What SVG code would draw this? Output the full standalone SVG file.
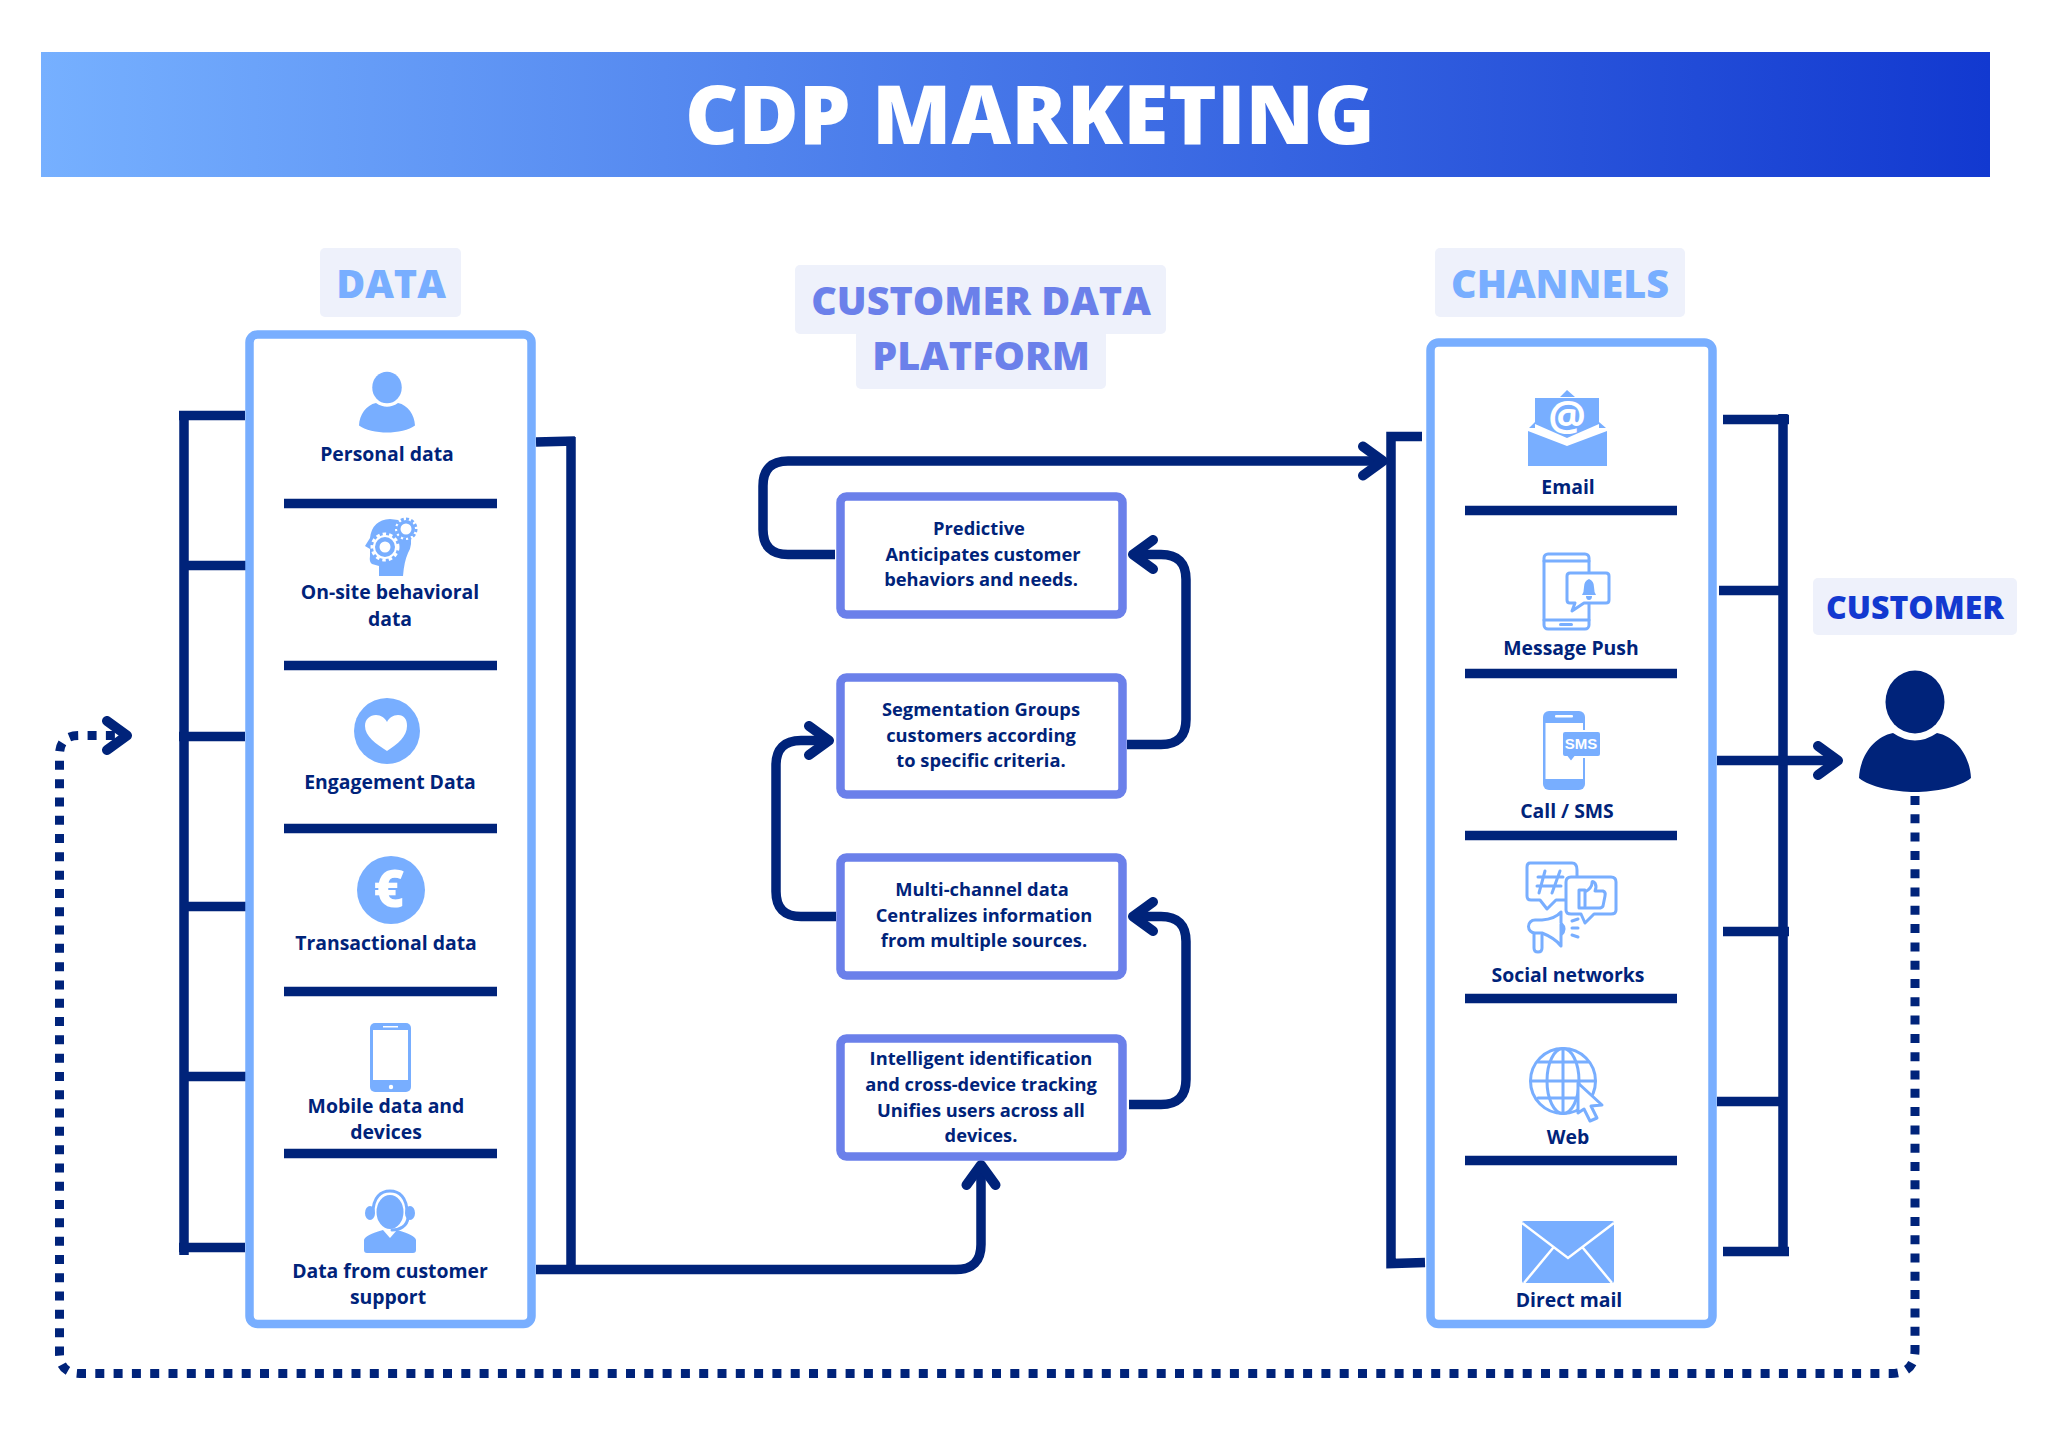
<svg xmlns="http://www.w3.org/2000/svg" width="2048" height="1448" viewBox="0 0 2048 1448">
<style>
text{font-family:"Open Sans","Noto Sans","Liberation Sans",sans-serif;font-weight:700;text-anchor:middle}
.t{font-size:19.4px;fill:#00237a}
.c{font-size:18.3px;fill:#00237a}
.h{font-size:39.5px;font-weight:800}
.lab{fill:#eef1fb}
.col{fill:#fff;stroke:#78aeff;stroke-width:8.5}
.box{fill:#fff;stroke:#6b80ea;stroke-width:8.5}
.sep{fill:none;stroke:#00237a;stroke-width:9.5}
.ln{fill:none;stroke:#00237a;stroke-width:9.5}
.ar{fill:none;stroke:#00237a;stroke-width:9.5;marker-end:url(#arrow)}
.dot{fill:none;stroke:#00237a;stroke-width:9;stroke-dasharray:9 9.3;marker-end:url(#arrow)}
.ic{fill:#78aeff}
.ol{fill:#fff;stroke:#78aeff;stroke-width:3;stroke-linejoin:round;stroke-linecap:round}
.nf{fill:none;stroke:#78aeff;stroke-width:3;stroke-linecap:round;stroke-linejoin:round}
.wl{fill:none;stroke:#fff;stroke-width:2.5}
</style>
<defs>
<linearGradient id="g" x1="0" x2="1" y1="0" y2="0"><stop offset="0" stop-color="#76b0ff"/><stop offset="1" stop-color="#1239d0"/></linearGradient>
<marker id="arrow" markerUnits="userSpaceOnUse" viewBox="-30 -20 40 40" refX="0" refY="0" markerWidth="40" markerHeight="40" orient="auto"><path d="M-20,-14.5 L0,0 L-20,14.5" fill="none" stroke="#00237a" stroke-width="10" stroke-linecap="round" stroke-linejoin="round"/></marker>
<path id="person" d="M-22,31 Q0,46 22,31 C42,35 55,55 56,76 C45,85 20,90 0,90 C-20,90 -45,85 -56,76 C-55,55 -42,35 -22,31Z"/>
</defs>
<rect width="2048" height="1448" fill="#fff"/>
<g id="title"><rect x="41" y="52" width="1949" height="125" fill="url(#g)"/><text x="1030" y="143.500" font-size="82.200" style="fill:#fff;font-weight:800">CDP MARKETING</text></g>
<g id="label-data"><rect class="lab" x="320" y="248" width="141" height="69" rx="5"/><text class="h" x="391" y="298" style="fill:#78aeff">DATA</text></g>
<g id="label-cdp"><rect class="lab" x="795" y="265" width="371" height="69" rx="5"/><rect class="lab" x="856" y="330" width="250" height="59" rx="5"/><text class="h" x="981" y="315" style="fill:#6b80ea">CUSTOMER DATA</text><text class="h" x="981" y="370" style="fill:#6b80ea">PLATFORM</text></g>
<g id="label-channels"><rect class="lab" x="1435" y="248" width="250" height="69" rx="5"/><text class="h" x="1560" y="298" style="fill:#78aeff">CHANNELS</text></g>
<g id="label-customer"><rect class="lab" x="1813" y="578" width="204" height="57" rx="5"/><text x="1915" y="619" font-size="32" style="fill:#1239d0;font-weight:800">CUSTOMER</text></g>

<g id="connectors">
<path class="ln" d="M184,411V1255M179,415.500H245M184,565.500H250M179,736.500H245M184,906.500H250M184,1076.500H248M179,1247.500H245"/>
<path class="ln" d="M536,442L575,441M571,437V1274"/>
<path class="ar" d="M536,1269.500H956Q981,1269.500 981,1244.500V1165"/>
<path class="ar" d="M835,554.500H788Q763,554.500 763,529.500V486Q763,461 788,461H1383"/>
<path class="ar" d="M1127,744.500H1161Q1186,744.500 1186,719.500V579.500Q1186,554.500 1161,554.500H1133"/>
<path class="ar" d="M836,916.500H801Q776,916.500 776,891.500V765.500Q776,740.500 801,740.500H829"/>
<path class="ar" d="M1129,1104.500H1161Q1186,1104.500 1186,1079.500V941.500Q1186,916.500 1161,916.500H1133"/>
<path class="ln" d="M1422,436.500L1391,436.500V1263.500L1425,1262.500"/>
<path class="ln" d="M1783,414V1256M1723,419.500H1789M1719,590.500H1783M1723,931.500H1789M1717,1101.500H1783M1723,1251.500H1789"/>
<path class="ar" d="M1717,760.500H1838"/>
<path class="dot" d="M1915,796V1350Q1915,1373.500 1891,1373.500H80Q59.500,1373.500 59.500,1353V755Q59.500,735.500 79,735.500H127"/>
</g>

<g id="col-data"><rect class="col" x="249.5" y="334.5" width="282" height="989.500" rx="8"/>
<path class="sep" d="M284,503.500H497M284,665.500H497M284,828.500H497M284,991.500H497M284,1153.500H497"/></g>
<g id="col-channels"><rect class="col" x="1430.5" y="342.5" width="282" height="981.500" rx="8"/>
<path class="sep" d="M1465,510.500H1677M1465,673.500H1677M1465,835.500H1677M1465,998.500H1677M1465,1160.500H1677"/></g>

<g id="personal-data"><g class="ic" transform="translate(387,387.500) scale(.5)"><ellipse rx="29.5" ry="31.5"/><use href="#person"/></g><text class="t" x="387" y="461">Personal data</text></g>
<g id="onsite-data"><path class="ic" d="M379,576V566L372,564Q369,562 370,556V549L365,546L370,538Q372,520 390,519L398,520L410,533Q413,545 408,553Q404,562 403,576Z"/>
<circle class="ic" cx="385" cy="547" r="11" stroke="#fff" stroke-width="2"/><circle cx="385" cy="547" r="13" fill="none" stroke="#fff" stroke-width="3" stroke-dasharray="3.5 3"/><circle cx="385" cy="547" r="5.5" fill="#fff"/>
<circle cx="406" cy="529" r="11" fill="#fff"/><circle class="ic" cx="406" cy="529" r="9"/><circle cx="406" cy="529" r="10" fill="none" stroke="#78aeff" stroke-width="3" stroke-dasharray="3 2.2"/><circle cx="406" cy="529" r="5.5" fill="#fff"/>
<text class="t" x="390" y="599">On-site behavioral</text><text class="t" x="390" y="626">data</text></g>
<g id="engagement-data"><circle class="ic" cx="387" cy="731" r="33"/><path fill="#fff" d="M387,751C376,744 365,736 365,726C365,719 370,715 376,715C381,715 385,718 387,722C389,718 393,715 398,715C404,715 407,719 407,726C407,736 398,744 387,751Z"/><text class="t" x="390" y="789">Engagement Data</text></g>
<g id="transactional-data"><circle class="ic" cx="391" cy="890" r="34"/><text x="389" y="907" font-size="52" style="fill:#fff;font-weight:800">€</text><text class="t" x="386" y="950">Transactional data</text></g>
<g id="mobile-data"><rect class="ic" x="370" y="1023" width="41" height="69" rx="5"/><rect x="373" y="1030" width="35" height="50" fill="#fff"/><rect x="383" y="1026" width="15" height="1.5" fill="#fff"/><circle cx="391" cy="1087" r="2.2" fill="#fff"/><text class="t" x="386" y="1113">Mobile data and</text><text class="t" x="386" y="1139">devices</text></g>
<g id="support-data"><ellipse class="ic" cx="390" cy="1212" rx="13.5" ry="17"/><path class="nf" d="M373,1213C373,1197 381,1191 390,1191C399,1191 407,1197 407,1213M408,1218C407,1226 400,1230 392,1230"/><ellipse class="ic" cx="370" cy="1213" rx="5" ry="7"/><ellipse class="ic" cx="410" cy="1213" rx="5" ry="7"/><path class="ic" d="M364,1240Q365,1235 383,1230L390,1238L397,1230Q415,1235 416,1240V1250Q416,1253 413,1253H367Q364,1253 364,1250Z"/><text class="t" x="390" y="1278">Data from customer</text><text class="t" x="388" y="1304">support</text></g>

<g id="email"><path class="ic" d="M1560,397L1567,390L1575,397ZM1529,428L1535,422V428ZM1606,428L1599,422V428Z"/><path class="ic" d="M1535,398H1599V424L1567,438L1535,424Z"/><path class="ic" d="M1528,431L1567,446L1607,431V466H1528Z"/><text x="1567" y="431" font-size="42" style="fill:#fff">@</text><text class="t" x="1568" y="494">Email</text></g>
<g id="push"><rect class="ol" x="1544" y="554" width="45" height="75" rx="4"/><path class="nf" d="M1544,561H1589M1544,620H1589"/><rect class="ic" x="1559" y="623" width="14" height="3" rx="1.5"/><path class="ol" d="M1570,573H1606Q1609,573 1609,576V600Q1609,603 1606,603H1584L1572,611L1575,603H1570Q1567,603 1567,600V576Q1567,573 1570,573Z"/><path class="ic" d="M1582,595Q1584,592 1584,587Q1584,581 1589,579Q1594,581 1594,587Q1594,592 1596,595ZM1586,596H1592Q1592,600 1589,600Q1586,600 1586,596Z"/><text class="t" x="1571" y="655">Message Push</text></g>
<g id="sms"><rect class="ic" x="1543" y="711" width="42" height="79" rx="6"/><rect x="1545.5" y="723" width="37.5" height="56" fill="#fff"/><rect x="1555" y="715" width="18" height="2.5" rx="1" fill="#fff"/><path class="ic" stroke="#fff" stroke-width="2" d="M1565,731H1598Q1601,731 1601,734V754Q1601,757 1598,757H1575L1571,762L1567,757H1565Q1562,757 1562,754V734Q1562,731 1565,731Z"/><text x="1581" y="749" font-size="15" style="font-family:'Liberation Sans',sans-serif;fill:#fff">SMS</text><text class="t" x="1567" y="818">Call / SMS</text></g>
<g id="social"><path class="ol" d="M1530,863H1572Q1577,863 1577,870V896Q1577,900 1572,900H1556L1547,909L1540,900H1531Q1527,900 1527,896V867Q1527,863 1530,863Z"/><path class="nf" d="M1545,871L1539,893M1560,871L1552,893M1538,877H1563M1537,886H1561"/><path class="ol" d="M1571,877H1611Q1616,877 1616,882V910Q1616,914 1611,914H1594L1585,923L1581,914H1571Q1566,914 1566,910V882Q1566,877 1571,877Z"/><path class="nf" d="M1579,890H1585V908H1579ZM1585,892Q1592,888 1592,883Q1592,880 1595,883Q1597,887 1595,891H1603Q1606,892 1605,896L1603,906Q1602,908 1599,908H1587"/><path class="ol" d="M1542,920Q1555,919 1561,912V946Q1555,938 1542,933H1535A6.5,6.5 0 0 1 1535,920ZM1561,923Q1567,929 1561,935"/><path class="nf" d="M1534,934V948Q1534,952 1538,952Q1542,952 1542,948V935M1572,921L1578,919M1572,928H1578M1572,935L1578,937"/><text class="t" x="1568" y="982">Social networks</text></g>
<g id="web"><circle class="nf" cx="1563" cy="1081" r="32.5"/><ellipse class="nf" cx="1563" cy="1081" rx="16" ry="32.5"/><path class="nf" d="M1563,1048.5V1113.5M1531,1081H1595M1538,1062H1588M1538,1098H1588"/><path fill="#fff" stroke="#78aeff" stroke-width="3" stroke-linejoin="round" d="M1578,1083L1602,1105L1591,1106L1597,1118L1590,1121L1584,1109L1578,1113Z"/><text class="t" x="1568" y="1144">Web</text></g>
<g id="direct-mail"><rect class="ic" x="1522" y="1221" width="92" height="62" rx="2"/><path class="wl" d="M1522,1223L1568,1258L1614,1223M1524,1283L1553,1248M1612,1283L1583,1248"/><text class="t" x="1569" y="1307">Direct mail</text></g>

<g id="predictive"><rect class="box" x="840.5" y="496.5" width="282" height="118" rx="6"/><text class="c" x="979" y="535">Predictive</text><text class="c" x="983" y="561">Anticipates customer</text><text class="c" x="981" y="586">behaviors and needs.</text></g>
<g id="segmentation"><rect class="box" x="840.5" y="677.5" width="282" height="117" rx="6"/><text class="c" x="981" y="716">Segmentation Groups</text><text class="c" x="981" y="741.500">customers according</text><text class="c" x="981" y="767">to specific criteria.</text></g>
<g id="multichannel"><rect class="box" x="840.5" y="857.5" width="282" height="118" rx="6"/><text class="c" x="982" y="896">Multi-channel data</text><text class="c" x="984" y="921.500">Centralizes information</text><text class="c" x="984" y="947">from multiple sources.</text></g>
<g id="identification"><rect class="box" x="840.5" y="1038.5" width="282" height="118" rx="6"/><text class="c" x="981" y="1065">Intelligent identification</text><text class="c" x="981" y="1091">and cross-device tracking</text><text class="c" x="981" y="1116.500">Unifies users across all</text><text class="c" x="981" y="1142">devices.</text></g>
<g id="customer"><g fill="#00237a" transform="translate(1915,702)"><ellipse rx="29.5" ry="31.5"/><use href="#person"/></g></g>
</svg>
